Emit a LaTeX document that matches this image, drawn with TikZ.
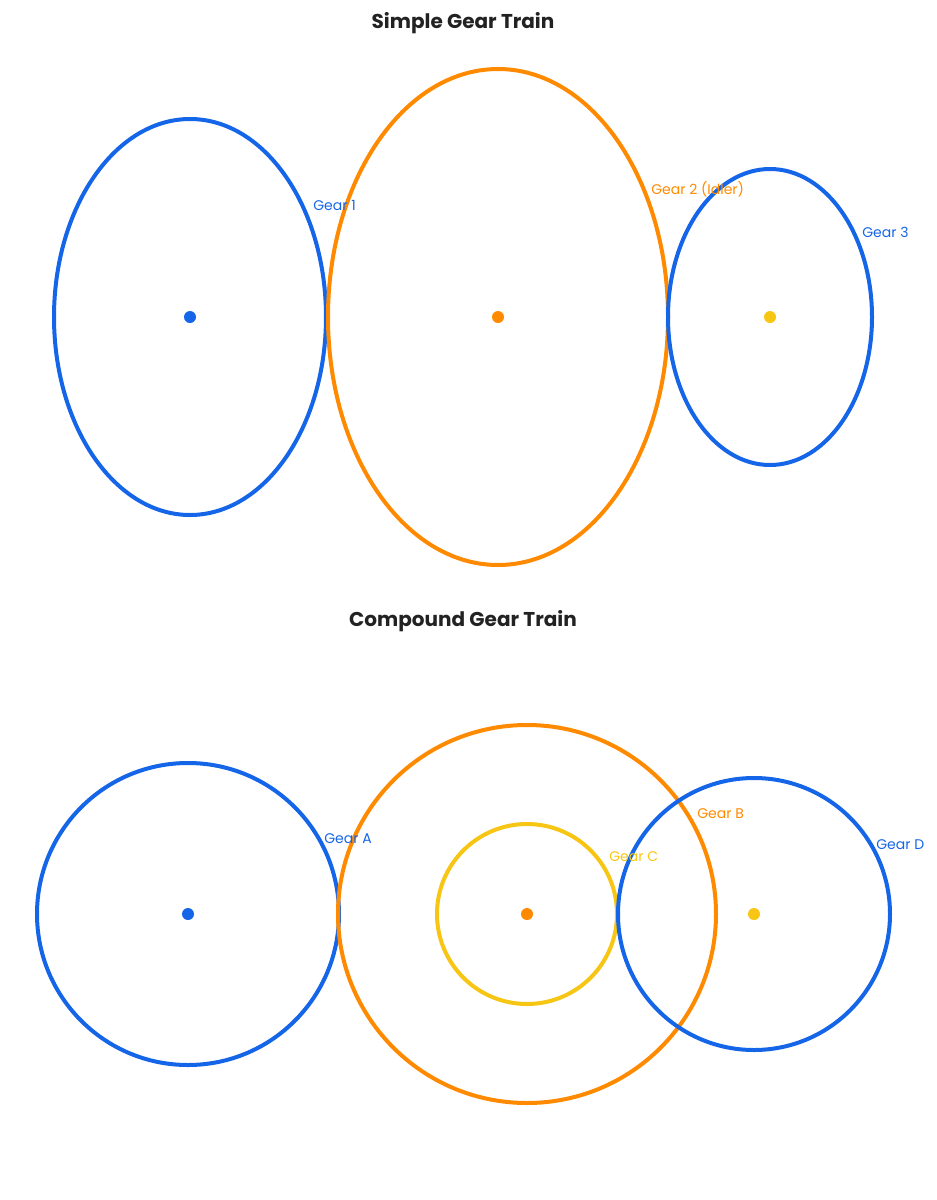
\documentclass[tikz,border=0pt]{standalone}
\usepackage{fontspec}
\setmainfont{Poppins}
\definecolor{gblue}{HTML}{1565E8}
\definecolor{gorange}{HTML}{FF8A00}
\definecolor{gyellow}{HTML}{F7C614}
\definecolor{gtitle}{HTML}{222222}
\begin{document}
\begin{tikzpicture}[x=0.75pt,y=-0.75pt,
  gear/.style={line width=3pt},
  hub/.style={circle,inner sep=0pt,minimum size=9pt},
  lbl/.style={anchor=west,inner sep=0pt,font=\fontsize{10.5}{12}\selectfont},
  ttl/.style={inner sep=0pt,font=\fontsize{15}{18}\selectfont\bfseries,text=gtitle}]
\useasboundingbox (0,0) rectangle (936,1200);
\node[ttl] (t1) at (463,23) {Simple Gear Train};
\draw[gear,gblue] (190,317) ellipse [x radius=136, y radius=198];
\draw[gear,gorange] (498,317) ellipse [x radius=170, y radius=248];
\draw[gear,gblue] (770,317) ellipse [x radius=102, y radius=148];
\node[hub,fill=gblue] (h1) at (190,317) {};
\node[hub,fill=gorange] (h2) at (498,317) {};
\node[hub,fill=gyellow] (h3) at (770,317) {};
\node[lbl,text=gblue] (l1) at (313,205) {Gear 1};
\node[lbl,text=gorange] (l2) at (651,189) {Gear 2 (Idler)};
\node[lbl,text=gblue] (l3) at (862,232) {Gear 3};
\node[ttl] (t2) at (463,621) {Compound Gear Train};
\draw[gear,gblue] (188,914) circle [radius=151];
\draw[gear,gorange] (527,914) circle [radius=189];
\draw[gear,gyellow] (527,914) circle [radius=90];
\draw[gear,gblue] (754,914) circle [radius=136];
\node[hub,fill=gblue] (hA) at (188,914) {};
\node[hub,fill=gorange] (hB) at (527,914) {};
\node[hub,fill=gyellow] (hD) at (754,914) {};
\node[lbl,text=gblue] (lA) at (324,839) {Gear A};
\node[lbl,text=gorange] (lB) at (697,814) {Gear B};
\node[lbl,text=gyellow] (lC) at (609,857) {Gear C};
\node[lbl,text=gblue] (lD) at (876,845) {Gear D};
\end{tikzpicture}
\end{document}
